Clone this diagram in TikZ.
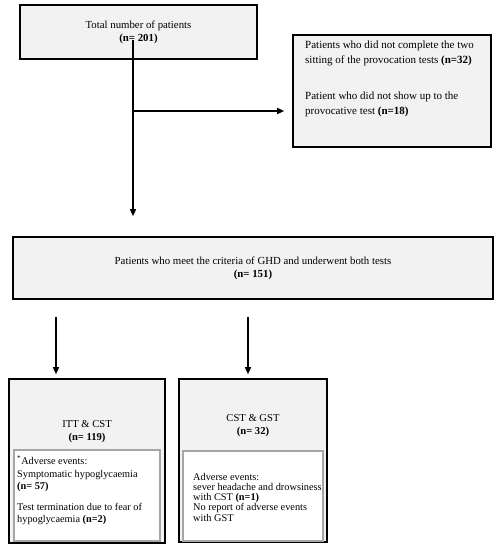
\documentclass[tikz,border=0pt]{standalone}
\usepackage{fontspec}
\setmainfont{Liberation Serif}
\usetikzlibrary{positioning, arrows.meta}
\definecolor{boxgray}{HTML}{F2F2F2}
\definecolor{linegray}{HTML}{A6A6A6}

\begin{document}
\begin{tikzpicture}[x=1pt, y=-1pt,
		box/.style={draw=black, line width=1.6pt, fill=boxgray, inner sep=0pt, align=center, font=\fontsize{10.8}{13}\selectfont},
		subbox/.style={draw=linegray, line width=1.3pt, fill=white, inner sep=0pt},
		txt/.style={inner sep=0pt, align=left, font=\fontsize{10.3}{12.5}\selectfont},
		arr/.style={-{Triangle[width=6pt,length=7pt]}, line width=1.4pt}]
		\useasboundingbox (0,0) rectangle (500,550);
		\node[box, minimum width=237, minimum height=54] (total) at (138.5,32) {Total number of patients\\\textbf{(n= 201)}};
		\node[box, minimum width=198, minimum height=112] (excl) at (392,91) {};
		\node[txt, anchor=north west, font=\fontsize{11}{15}\selectfont] (excltxt) at (305,41) {Patients who did not complete the two\\sitting of the provocation tests \textbf{(n=32)}\\[21pt]Patient who did not show up to the\\provocative test \textbf{(n=18)}};
		\node[box, minimum width=480, minimum height=62] (ghd) at (253,268) {Patients who meet the criteria of GHD and underwent both tests\\\textbf{(n= 151)}};
		\node[box, minimum width=156, minimum height=164] (itt) at (87,461) {};
		\node[txt, align=center, font=\fontsize{10.6}{13}\selectfont] (itttitle) at (87,432) {ITT \& CST\\\textbf{(n= 119)}};
		\node[subbox, minimum width=146, minimum height=91] (ittsub) at (87,495.5) {};
		\node[txt, anchor=north west] (itttxt) at (17,456) {\textsuperscript{*}Adverse events:\\Symptomatic hypoglycaemia\\\textbf{(n= 57)}\\[8pt]Test termination due to fear of\\hypoglycaemia \textbf{(n=2)}};
		\node[box, minimum width=148, minimum height=163] (gst) at (253,460.5) {};
		\node[txt, align=center, font=\fontsize{10.6}{13}\selectfont] (gsttitle) at (253,425.5) {CST \& GST\\\textbf{(n= 32)}};
		\node[subbox, minimum width=140, minimum height=90] (gstsub) at (253,496) {};
		\node[txt, anchor=north west, font=\fontsize{10.3}{10.2}\selectfont] (gsttxt) at (193,473) {Adverse events:\\sever headache and drowsiness\\with CST \textbf{(n=1)}\\No report of adverse events\\with GST};
		
		\coordinate (top) at (133,40);
		\coordinate (split) at (133,111);
		\coordinate (left) at (56,317);
		\coordinate (right) at (248,317);
		
		\draw[arr, shorten >=20pt] (top) -- (top |- ghd.north);
		\draw[arr, shorten >=8pt] (split) -- (split -| excl.west);
		\draw[arr, shorten >=4pt] (left) -- (left |- itt.north);
		\draw[arr, shorten >=4pt] (right) -- (right |- gst.north);
	\end{tikzpicture}
\end{document}
